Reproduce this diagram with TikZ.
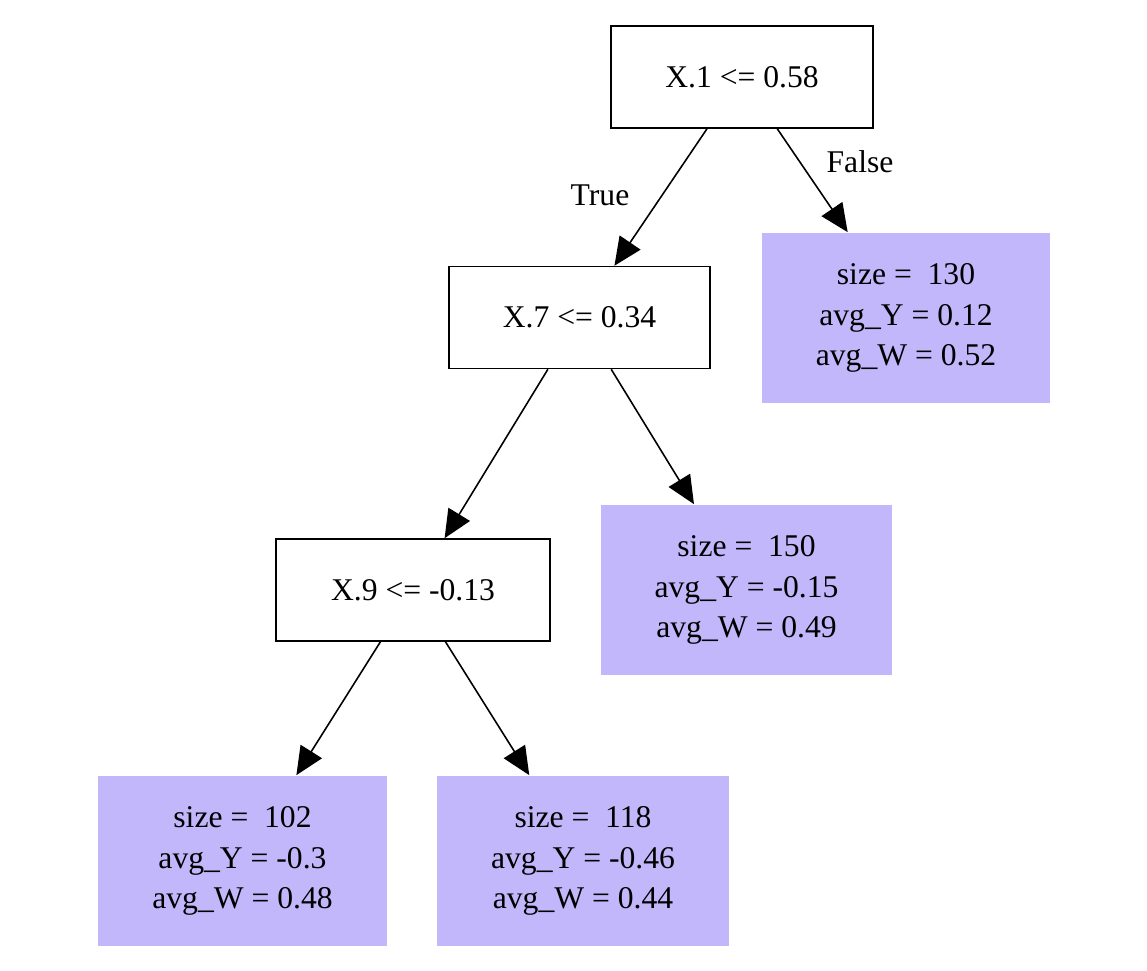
\documentclass[tikz,border=0pt]{standalone}
\usepackage{fontspec}
\setmainfont{Liberation Serif}
\usetikzlibrary{arrows.meta}
\definecolor{leafc}{RGB}{195,183,251}
\begin{document}
\begin{tikzpicture}[x=0.02cm,y=-0.02cm,
  every node/.style={font=\fontsize{18}{23}\selectfont, inner sep=0pt, align=center},
  split/.style={draw, line width=0.9pt, minimum width=#1*0.02cm, minimum height=2.04cm},
  leaf/.style={fill=leafc, minimum width=#1*0.02cm, minimum height=3.42cm},
  edge/.style={line width=0.9pt, -{Triangle[length=0.56cm,width=0.5cm]}},
  lbl/.style={font=\fontsize{18}{23}\selectfont}]
\useasboundingbox (0,0) rectangle (1147,971);
\node[split=262] (root) at (742,77) {X.1 <= 0.58};
\node[split=261] (n7) at (579.5,317.5) {X.7 <= 0.34};
\node[leaf=288] (l130) at (906,318) {size =\ \ 130\\avg\_Y = 0.12\\avg\_W = 0.52};
\node[split=274] (n9) at (413,590) {X.9 <= -0.13};
\node[leaf=291] (l150) at (746.5,590) {size =\ \ 150\\avg\_Y = -0.15\\avg\_W = 0.49};
\node[leaf=289] (l102) at (242.5,861) {size =\ \ 102\\avg\_Y = -0.3\\avg\_W = 0.48};
\node[leaf=292] (l118) at (583,861) {size =\ \ 118\\avg\_Y = -0.46\\avg\_W = 0.44};
\draw[edge] (root) -- (n7);
\draw[edge] (root) -- (l130);
\draw[edge] (n7) -- (n9);
\draw[edge] (n7) -- (l150);
\draw[edge] (n9) -- (l102);
\draw[edge] (n9) -- (l118);
\node[lbl] (t) at (600,195) {True};
\node[lbl] (f) at (860,162) {False};
\end{tikzpicture}
\end{document}
